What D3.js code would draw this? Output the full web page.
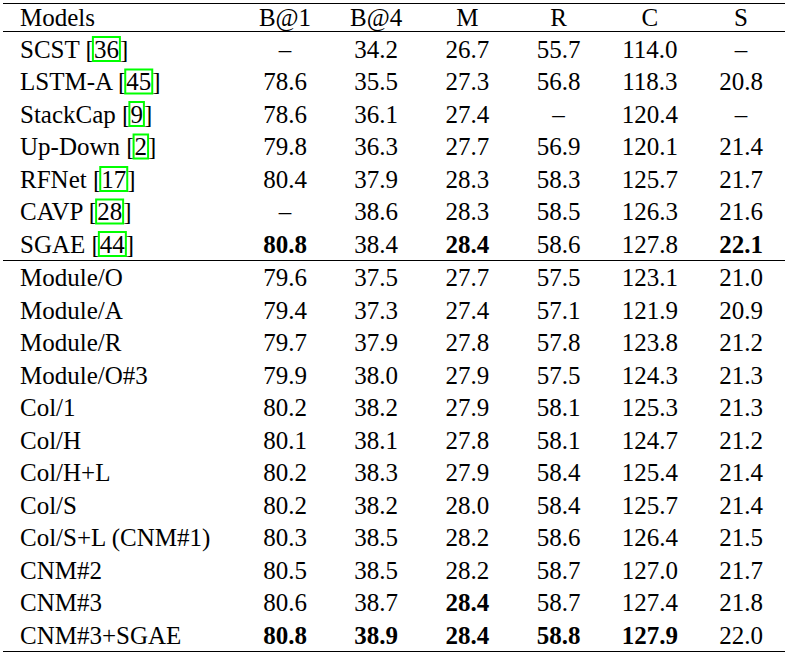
<!DOCTYPE html>
<html><head><meta charset="utf-8">
<script src="https://cdn.jsdelivr.net/npm/d3@7"></script>
<style>body{margin:0;background:#fff} text{font-family:"Liberation Serif","Times New Roman",Times,serif;}</style>
</head><body>
<script>
const headers = ["Models","B@1","B@4","M","R","C","S"];
const modelNames = ["SCST","LSTM-A","StackCap","Up-Down","RFNet","CAVP","SGAE",
 "Module/O","Module/A","Module/R","Module/O#3","Col/1","Col/H","Col/H+L","Col/S","Col/S+L (CNM#1)","CNM#2","CNM#3","CNM#3+SGAE"];
const citations = ["36","45","9","2","17","28","44",null,null,null,null,null,null,null,null,null,null,null,null];
const B1 = [null,78.6,78.6,79.8,80.4,null,80.8,79.6,79.4,79.7,79.9,80.2,80.1,80.2,80.2,80.3,80.5,80.6,80.8];
const B4 = [34.2,35.5,36.1,36.3,37.9,38.6,38.4,37.5,37.3,37.9,38.0,38.2,38.1,38.3,38.2,38.5,38.5,38.7,38.9];
const M  = [26.7,27.3,27.4,27.7,28.3,28.3,28.4,27.7,27.4,27.8,27.9,27.9,27.8,27.9,28.0,28.2,28.2,28.4,28.4];
const R  = [55.7,56.8,null,56.9,58.3,58.5,58.6,57.5,57.1,57.8,57.5,58.1,58.1,58.4,58.4,58.6,58.7,58.7,58.8];
const C  = [114.0,118.3,120.4,120.1,125.7,126.3,127.8,123.1,121.9,123.8,124.3,125.3,124.7,125.4,125.7,126.4,127.0,127.4,127.9];
const S  = [null,20.8,null,21.4,21.7,21.6,22.1,21.0,20.9,21.2,21.3,21.3,21.2,21.4,21.4,21.5,21.7,21.8,22.0];
const boldCells = [[6,1],[6,3],[6,6],[17,3],[18,1],[18,2],[18,3],[18,4],[18,5]];
const groupSizes = [7,12];

const W=787,H=658, fs=25, step=32.5;
const svg=d3.select("body").append("svg").attr("width",W).attr("height",H).style("font-size",fs+"px");
const cols=[B1,B4,M,R,C,S];
const colX = d3.scalePoint().domain(d3.range(1,7)).range([285,741]);
const rowY = i => 49 + i*step + (i>=groupSizes[0]?1:0);
const base = 8.5;

const rules=[{y:3.5,w:1.2},{y:31.5,w:1},{y:260.5,w:1},{y:651.5,w:1.2}];
svg.selectAll("line.r").data(rules).join("line").attr("x1",3).attr("x2",785)
  .attr("y1",d=>d.y).attr("y2",d=>d.y).attr("stroke","#000").attr("stroke-width",d=>d.w);

svg.append("text").attr("x",20).attr("y",17+base).text(headers[0]);
svg.selectAll("text.h").data(headers.slice(1)).join("text").attr("x",(d,i)=>colX(i+1))
  .attr("y",17+base).attr("text-anchor","middle").text(d=>d);

const isBold=(r,c)=>boldCells.some(b=>b[0]===r&&b[1]===c);
modelNames.forEach((name,r)=>{
  const y=rowY(r)+base;
  const cit=citations[r];
  const t1=svg.append("text").attr("x",20).attr("y",y).text(cit?name+" [":name);
  if(cit){
    const w1=t1.node().getComputedTextLength();
    const t2=svg.append("text").attr("x",20+w1).attr("y",y).text(cit);
    const w2=t2.node().getComputedTextLength();
    svg.append("rect").attr("x",20+w1-1).attr("y",rowY(r)-12).attr("width",w2+2).attr("height",24)
      .attr("fill","none").attr("stroke","#00ff00").attr("stroke-width",2);
    svg.append("text").attr("x",20+w1+w2+1).attr("y",y).text("]");
  }
  cols.forEach((arr,ci)=>{
    const v=arr[r];
    svg.append("text").attr("x",colX(ci+1)).attr("y",y).attr("text-anchor","middle")
      .attr("font-weight",isBold(r,ci+1)?"bold":"normal")
      .text(v==null?"–":v.toFixed(1));
  });
});
</script>
</body></html>
